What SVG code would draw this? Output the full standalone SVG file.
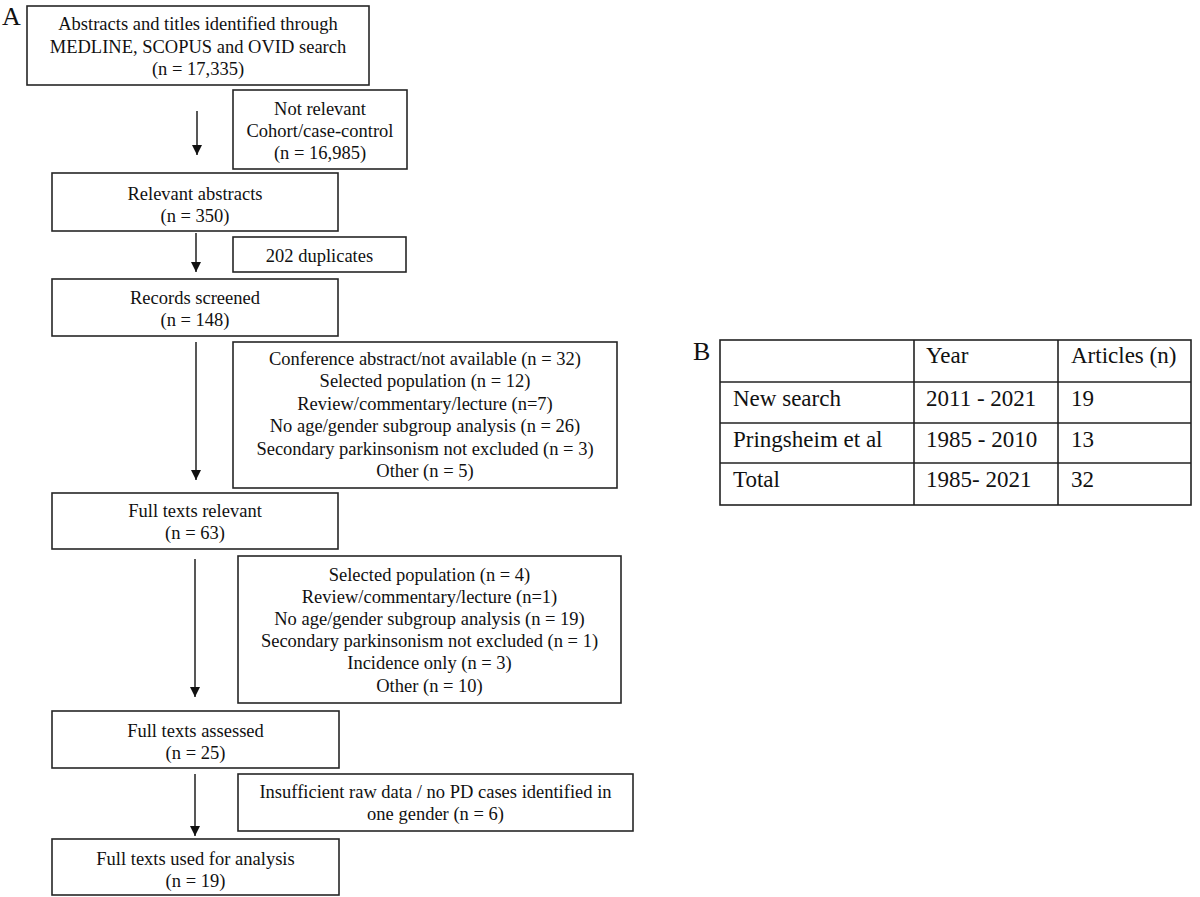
<svg xmlns="http://www.w3.org/2000/svg" width="1200" height="897" viewBox="0 0 1200 897">
<style>
.bx{fill:#fff;stroke:#262626;stroke-width:1.6}
.t{font-family:"Liberation Serif","Times New Roman",serif;font-size:18.5px;fill:#111;text-anchor:middle}
.tl{font-family:"Liberation Serif","Times New Roman",serif;font-size:23px;fill:#111}
.lb{font-family:"Liberation Serif","Times New Roman",serif;font-size:26px;fill:#111}
.ar{stroke:#111;stroke-width:1.4;fill:none;marker-end:url(#ah)}
.tb{stroke:#222;stroke-width:1.6;fill:none}
</style>
<defs>
<marker id="ah" viewBox="0 0 10 12" refX="10" refY="6" markerWidth="10" markerHeight="12" markerUnits="userSpaceOnUse" orient="auto">
<path d="M0,1 L10,6 L0,11 Z" fill="#111"/>
</marker>
</defs>
<rect width="1200" height="897" fill="#fff"/>
<text class="lb" x="2" y="25">A</text>
<text class="lb" x="693" y="360">B</text>

<g id="connectors">
<line class="ar" x1="197" y1="111" x2="197" y2="155"/>
<line class="ar" x1="196" y1="233" x2="196" y2="272"/>
<line class="ar" x1="196" y1="342" x2="196" y2="480"/>
<line class="ar" x1="195" y1="559" x2="195" y2="697"/>
<line class="ar" x1="195" y1="774" x2="195" y2="836"/>
</g>

<g id="n1">
<rect class="bx" x="27" y="6" width="342" height="79"/>
<text class="t" x="198" y="30">Abstracts and titles identified through</text>
<text class="t" x="198" y="52.5">MEDLINE, SCOPUS and OVID search</text>
<text class="t" x="198" y="75">(n = 17,335)</text>
</g>
<g id="n2">
<rect class="bx" x="233" y="90" width="174" height="79"/>
<text class="t" x="320" y="115">Not relevant</text>
<text class="t" x="320" y="137">Cohort/case-control</text>
<text class="t" x="320" y="159">(n = 16,985)</text>
</g>
<g id="n3">
<rect class="bx" x="52" y="173" width="286" height="58"/>
<text class="t" x="195" y="200">Relevant abstracts</text>
<text class="t" x="195" y="222">(n = 350)</text>
</g>
<g id="n4">
<rect class="bx" x="233" y="237" width="173" height="35"/>
<text class="t" x="319.5" y="262">202 duplicates</text>
</g>
<g id="n5">
<rect class="bx" x="52" y="279" width="286" height="57"/>
<text class="t" x="195" y="304">Records screened</text>
<text class="t" x="195" y="326">(n = 148)</text>
</g>
<g id="n6">
<rect class="bx" x="233" y="342" width="384" height="146"/>
<text class="t" x="425" y="365">Conference abstract/not available (n = 32)</text>
<text class="t" x="425" y="387.4">Selected population (n = 12)</text>
<text class="t" x="425" y="409.8">Review/commentary/lecture (n=7)</text>
<text class="t" x="425" y="432.2">No age/gender subgroup analysis (n = 26)</text>
<text class="t" x="425" y="454.6">Secondary parkinsonism not excluded (n = 3)</text>
<text class="t" x="425" y="477">Other (n = 5)</text>
</g>
<g id="n7">
<rect class="bx" x="52" y="493" width="286" height="56"/>
<text class="t" x="195" y="517">Full texts relevant</text>
<text class="t" x="195" y="539">(n = 63)</text>
</g>
<g id="n8">
<rect class="bx" x="238" y="556" width="383" height="147"/>
<text class="t" x="429.5" y="581">Selected population (n = 4)</text>
<text class="t" x="429.5" y="603">Review/commentary/lecture (n=1)</text>
<text class="t" x="429.5" y="625">No age/gender subgroup analysis (n = 19)</text>
<text class="t" x="429.5" y="647">Secondary parkinsonism not excluded (n = 1)</text>
<text class="t" x="429.5" y="669">Incidence only (n = 3)</text>
<text class="t" x="429.5" y="692">Other (n = 10)</text>
</g>
<g id="n9">
<rect class="bx" x="52" y="711" width="287" height="57"/>
<text class="t" x="195.5" y="737">Full texts assessed</text>
<text class="t" x="195.5" y="759">(n = 25)</text>
</g>
<g id="n10">
<rect class="bx" x="238" y="774" width="395" height="57"/>
<text class="t" x="435.5" y="798">Insufficient raw data / no PD cases identified in</text>
<text class="t" x="435.5" y="820">one gender (n = 6)</text>
</g>
<g id="n11">
<rect class="bx" x="52" y="839" width="287" height="56"/>
<text class="t" x="195.5" y="865">Full texts used for analysis</text>
<text class="t" x="195.5" y="887">(n = 19)</text>
</g>

<g id="tableB">
<rect class="tb" x="720" y="340" width="471" height="165"/>
<line class="tb" x1="914" y1="340" x2="914" y2="505"/>
<line class="tb" x1="1058" y1="340" x2="1058" y2="505"/>
<line class="tb" x1="720" y1="382" x2="1191" y2="382"/>
<line class="tb" x1="720" y1="423" x2="1191" y2="423"/>
<line class="tb" x1="720" y1="463" x2="1191" y2="463"/>
<text class="tl" x="926" y="363">Year</text>
<text class="tl" x="1071" y="363">Articles (n)</text>
<text class="tl" x="733" y="406">New search</text>
<text class="tl" x="926" y="406">2011 - 2021</text>
<text class="tl" x="1071" y="406">19</text>
<text class="tl" x="733" y="447">Pringsheim et al</text>
<text class="tl" x="926" y="447">1985 - 2010</text>
<text class="tl" x="1071" y="447">13</text>
<text class="tl" x="733" y="487">Total</text>
<text class="tl" x="926" y="487">1985- 2021</text>
<text class="tl" x="1071" y="487">32</text>
</g>
</svg>
